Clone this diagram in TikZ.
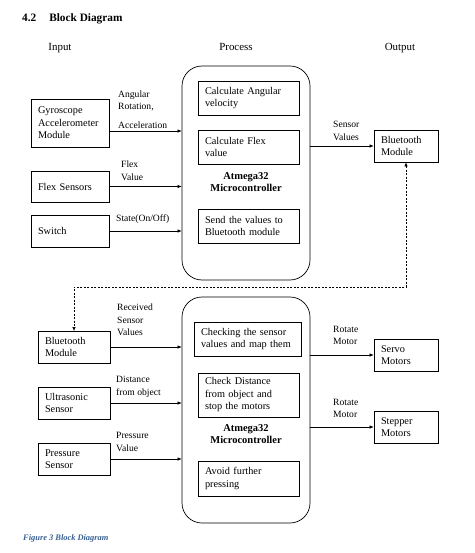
\documentclass[tikz,border=0pt]{standalone}
\usepackage{fontspec}
\setmainfont{Liberation Serif}
\usetikzlibrary{arrows.meta}
\definecolor{capblue}{HTML}{365F91}
\begin{document}
\begin{tikzpicture}[
        x=1pt, y=-1pt,
        blk/.style={draw, line width=0.7pt, inner xsep=7pt, inner ysep=2pt, align=left,
            font=\fontsize{10.3}{12.5}\selectfont},
        mcu/.style={draw, line width=0.7pt, rounded corners=20pt},
        lbl/.style={inner sep=1pt, align=left, anchor=west, font=\fontsize{9.6}{12.5}\selectfont},
        head/.style={font=\fontsize{10.9}{13}\selectfont},
        chip/.style={align=center, font=\fontsize{10.5}{12}\selectfont\bfseries},
        arr/.style={-{Latex[length=4pt,width=3.5pt]}, line width=0.6pt},
        link/.style={{Latex[length=4pt,width=3.5pt]}-{Latex[length=4pt,width=3.5pt]}, line width=0.6pt, dash pattern=on 2pt off 1.5pt}
    ]
        \useasboundingbox (0,0) rectangle (474,553);

        % Title and column heads
        \node[anchor=west, inner sep=0pt, font=\fontsize{11.3}{13}\selectfont\bfseries] (title) at (22,19) {4.2\hspace{13pt}Block Diagram};
        \node[head] (hin) at (60,48) {Input};
        \node[head] (hproc) at (236,47) {Process};
        \node[head] (hout) at (400,48) {Output};

        % Upper controller
        \node[mcu, minimum width=128pt, minimum height=214pt] (mcuA) at (246,173) {};
        \node[blk, text width=87pt, minimum height=34pt] (angv) at (248.5,98) {Calculate Angular\\velocity};
        \node[blk, text width=87pt, minimum height=34pt] (flexv) at (248.5,147) {Calculate Flex\\value};
        \node[chip] (chipA) at (246,182.5) {Atmega32\\Microcontroller};
        \node[blk, text width=87pt, minimum height=34pt] (send) at (248.5,226) {Send the values to\\Bluetooth module};

        % Upper inputs
        \node[blk, text width=64pt, minimum height=48pt] (gyro) at (70,123) {Gyroscope\\Accelerometer\\Module};
        \node[blk, text width=64pt, minimum height=31pt] (flex) at (70,186.5) {Flex Sensors};
        \node[blk, text width=64pt, minimum height=32pt] (switch) at (70,231) {Switch};

        % Upper output
        \node[blk, text width=50pt, minimum height=32pt] (btout) at (406,146) {Bluetooth\\Module};

        \draw[arr] ([yshift=-8pt]gyro.east) -- ([yshift=-8pt]gyro.east -| mcuA.west);
        \draw[arr] (flex.east) -- (flex.east -| mcuA.west);
        \draw[arr] (switch.east) -- (switch.east -| mcuA.west);
        \draw[arr] (mcuA.east |- btout.west) -- (btout.west);

        \node[lbl] (lang) at (117,101) {Angular\\Rotation,};
        \node[lbl] (lacc) at (117,125) {Acceleration};
        \node[lbl] (lflex) at (120,170.5) {Flex\\Value};
        \node[lbl] (lsw) at (115,219) {State(On/Off)};
        \node[lbl] (lsens) at (332,131) {Sensor\\Values};

        % Wireless link
        \coordinate (linky) at (0,287);
        \draw[link] (btout.south) -- (btout.south |- linky) -| (74,331);

        % Lower controller
        \node[mcu, minimum width=128pt, minimum height=226pt] (mcuB) at (246,410) {};
        \node[blk, text width=93pt, minimum height=34pt] (check) at (247.5,339) {Checking the sensor\\values and map them};
        \node[blk, text width=87pt, minimum height=44pt] (dist) at (248.5,395) {Check Distance\\from object and\\stop the motors};
        \node[chip] (chipB) at (246,434.5) {Atmega32\\Microcontroller};
        \node[blk, text width=87pt, minimum height=35pt] (avoid) at (248.5,478.5) {Avoid further\\pressing};

        % Lower inputs
        \node[blk, text width=58pt, minimum height=32pt] (btin) at (74,347) {Bluetooth\\Module};
        \node[blk, text width=58pt, minimum height=32pt] (ultra) at (74,403) {Ultrasonic\\Sensor};
        \node[blk, text width=58pt, minimum height=32pt] (press) at (74,459) {Pressure\\Sensor};

        % Lower outputs
        \node[blk, text width=50pt, minimum height=32pt] (servo) at (406,355) {Servo\\Motors};
        \node[blk, text width=50pt, minimum height=32pt] (stepper) at (406,427) {Stepper\\Motors};

        \draw[arr] (btin.east) -- (btin.east -| mcuB.west);
        \draw[arr] (ultra.east) -- (ultra.east -| mcuB.west);
        \draw[arr] (press.east) -- (press.east -| mcuB.west);
        \draw[arr] (mcuB.east |- servo.west) -- (servo.west);
        \draw[arr] (mcuB.east |- stepper.west) -- (stepper.west);

        \node[lbl] (lrecv) at (116,320) {Received\\Sensor\\Values};
        \node[lbl] (ldist) at (115,387) {Distance\\from object};
        \node[lbl] (lpress) at (115,442) {Pressure\\Value};
        \node[lbl] (lrot1) at (332,335.5) {Rotate\\Motor};
        \node[lbl] (lrot2) at (332,408.5) {Rotate\\Motor};

        % Caption
        \node[anchor=west, inner sep=0pt, text=capblue, font=\fontsize{8.4}{10}\selectfont\bfseries\itshape] (cap) at (23,538) {Figure 3 Block Diagram};

    \end{tikzpicture}
\end{document}
